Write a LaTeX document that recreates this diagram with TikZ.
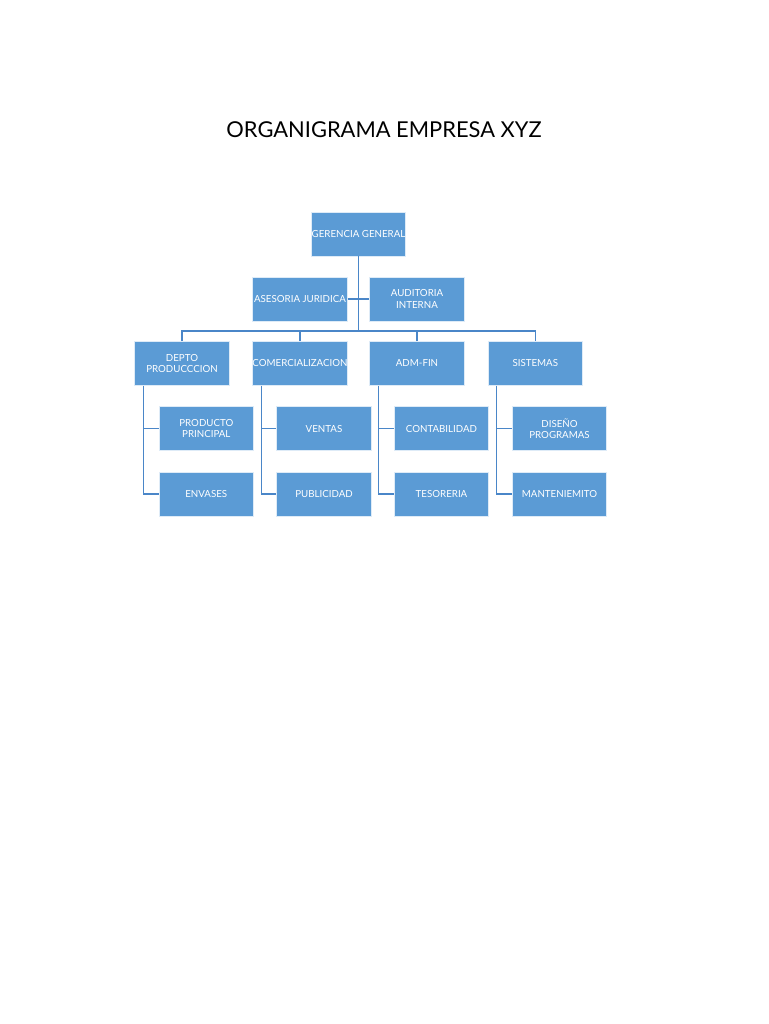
\documentclass[tikz,border=0pt]{standalone}
\usepackage{fontspec}
\setmainfont{Lato}
\usepackage{tikz}
\usetikzlibrary{positioning}

\definecolor{boxblue}{HTML}{5B9BD5}
\definecolor{lineblue}{HTML}{4A86C8}
\tikzset{
  unit/.style={draw=white!80!boxblue,line width=0.6pt,fill=boxblue,text=white,minimum width=71pt,minimum height=33pt,inner sep=0pt,align=center,font=\fontsize{7.3}{8.5}\selectfont},
  link/.style={draw=lineblue,line width=0.8pt}
}

\begin{document}
\begin{tikzpicture}[x=0.75pt,y=-0.75pt]
\useasboundingbox (0,0) rectangle (768,1024);
\node (title) at (384,130) {\fontsize{16.4}{19}\selectfont ORGANIGRAMA EMPRESA XYZ};
% top
\node[unit] (gerencia) at (358.5,234) {GERENCIA GENERAL};
\node[unit] (asesoria) at (300,299) {ASESORIA JURIDICA};
\node[unit] (auditoria) at (417,299) {AUDITORIA\\INTERNA};
% departamentos
\node[unit] (produccion) at (182,363.5) {DEPTO\\PRODUCCCION};
\node[unit] (comercial) at (300,363.5) {COMERCIALIZACION};
\node[unit] (admfin) at (417,363.5) {ADM-FIN};
\node[unit] (sistemas) at (535.3,363.5) {SISTEMAS};
% secciones
\node[unit] (producto) at (206.3,428.7) {PRODUCTO\\PRINCIPAL};
\node[unit] (envases) at (206.3,494) {ENVASES};
\node[unit] (ventas) at (324,428.7) {VENTAS};
\node[unit] (publicidad) at (324,494) {PUBLICIDAD};
\node[unit] (contabilidad) at (441.5,428.7) {CONTABILIDAD};
\node[unit] (tesoreria) at (441.5,494) {TESORERIA};
\node[unit] (diseno) at (559.5,428.7) {DISEÑO\\PROGRAMAS};
\node[unit] (mantenimiento) at (559.5,494) {MANTENIEMITO};

\coordinate (bus) at (358.5,331);
\draw[link] (gerencia.south) -- (bus);
\draw[link] (asesoria.east) -- (auditoria.west);
\draw[link] (produccion.north) |- (bus) -| (sistemas.north);
\draw[link] (comercial.north) -- (comercial.north |- bus);
\draw[link] (admfin.north) -- (admfin.north |- bus);
\draw[link] ([xshift=7pt]produccion.south west) |- (envases.west);
\draw[link] ([xshift=7pt]produccion.south west) |- (producto.west);
\draw[link] ([xshift=7pt]comercial.south west) |- (publicidad.west);
\draw[link] ([xshift=7pt]comercial.south west) |- (ventas.west);
\draw[link] ([xshift=7pt]admfin.south west) |- (tesoreria.west);
\draw[link] ([xshift=7pt]admfin.south west) |- (contabilidad.west);
\draw[link] ([xshift=7pt]sistemas.south west) |- (mantenimiento.west);
\draw[link] ([xshift=7pt]sistemas.south west) |- (diseno.west);
\end{tikzpicture}
\end{document}
